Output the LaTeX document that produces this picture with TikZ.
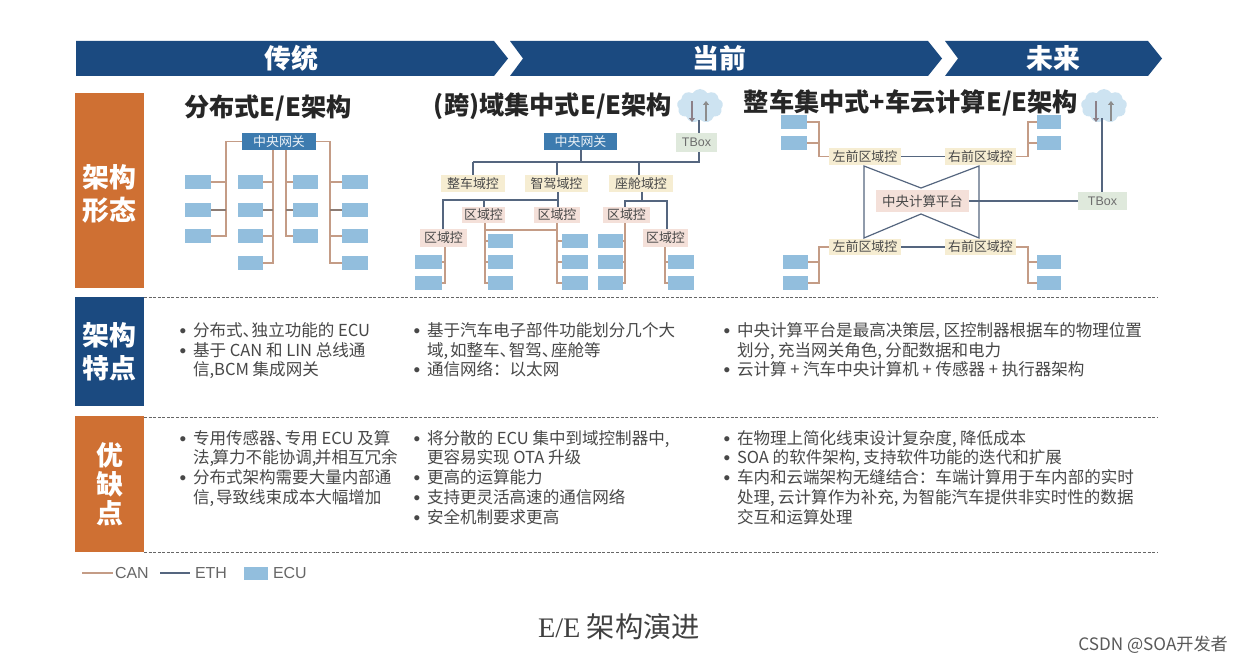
\documentclass[tikz,border=0pt]{standalone}
\usepackage{fontspec}
\setmainfont{Noto Sans CJK SC}
\newfontfamily\latinserif{Liberation Serif}
\newfontfamily\latinsans{Liberation Sans}
\usetikzlibrary{shapes.symbols,arrows.meta}
\definecolor{hdrblue}{HTML}{1B4A80}
\definecolor{sideorange}{HTML}{CF7033}
\definecolor{ecublue}{HTML}{92BEDD}
\definecolor{gwblue}{HTML}{3D7BAF}
\definecolor{domcol}{HTML}{F6EDD2}
\definecolor{zonecol}{HTML}{F4E0D9}
\definecolor{tboxcol}{HTML}{DFE9DC}
\definecolor{cancol}{HTML}{C49C86}
\definecolor{candark}{HTML}{8C7C74}
\definecolor{ethcol}{HTML}{55667F}
\definecolor{cloudcol}{HTML}{CDE3F1}
\definecolor{bodytext}{HTML}{484848}
\definecolor{dnarrow}{HTML}{8C8088}
\newcommand\dn{\makebox[0.55em][l]{、}}
\newcommand\cm{,\hspace{3.5pt}}
\newcommand\cz{,\kern-1.5pt\relax}
\tikzset{
  base/.style={inner sep=0pt,outer sep=0pt,align=center},
  ecu/.style={base,fill=ecublue},
  gw/.style={base,fill=gwblue,text=white!90!gwblue,font=\fontsize{13}{15}\selectfont},
  dom/.style={base,fill=domcol,text=bodytext,font=\fontsize{13}{15}\selectfont},
  zone/.style={base,fill=zonecol,text=bodytext,font=\fontsize{13}{15}\selectfont},
  tbox/.style={base,fill=tboxcol,text=bodytext!80,font=\latinsans\fontsize{12.5}{14}\selectfont},
  can/.style={draw=cancol,line width=1.2pt},
  canb/.style={draw=candark,line width=1.2pt},
  eth/.style={draw=ethcol,line width=1.2pt},
  side/.style={base,text=white,font=\bfseries\fontsize{27}{31}\selectfont},
  hdr/.style={fill=hdrblue,draw=none},
  hdrtext/.style={base,text=white,font=\bfseries\fontsize{27}{30}\selectfont},
  titletext/.style={base,text=black!85,font=\bfseries\fontsize{25.3}{29}\selectfont},
  txt/.style={inner sep=0pt,outer sep=0pt,anchor=base west,text=bodytext,font=\fontsize{16.6}{19}\selectfont},
  bul/.style={inner sep=0pt,outer sep=0pt,anchor=base,text=bodytext,font=\latinsans\fontsize{19}{20}\selectfont},
  sep/.style={draw=black!60,line width=0.9pt,dash pattern=on 3pt off 1.6pt},
  legend/.style={inner sep=0pt,outer sep=0pt,anchor=west,text=black!60,font=\latinsans\fontsize{16}{18}\selectfont},
  cloudy/.style={shape=cloud,cloud puffs=9,cloud puff arc=120,aspect=1.3,fill=cloudcol,draw=none,inner sep=0pt,minimum width=46bp,minimum height=34bp},
  upar/.style={-{Triangle[length=4pt,width=6pt]},draw=black!45,line width=1.6pt},
  dnar/.style={-{Triangle[length=4pt,width=6pt]},draw=dnarrow,line width=1.6pt}
}
\newcommand\bx[7]{\node[#6,minimum width={(#4-#2)*1bp},minimum height={(#5-#3)*1bp}] (#1) at ({(#2+#4)/2},{(#3+#5)/2}) {#7};}
\newcommand\bl[4]{\node[bul] (#1b) at (#2+3,#3+7.5) {•};\node[txt] (#1) at (#2+13,#3+6.2) {#4};}
\newcommand\cl[4]{\node[txt] (#1) at (#2+13,#3+6.2) {#4};}
\begin{document}
\begin{tikzpicture}[x=1bp,y=-1bp]
\useasboundingbox (0,0) rectangle (1244,662);
\fill[white] (0,0) rectangle (1244,662);
% header chevrons
\fill[hdr] (76,41) -- (494,41) -- (508,58.5) -- (494,76) -- (76,76) -- cycle;
\fill[hdr] (510,41) -- (928,41) -- (942,58.5) -- (928,76) -- (510,76) -- (523,58.5) -- cycle;
\fill[hdr] (945,41) -- (1148,41) -- (1162,58.5) -- (1148,76) -- (945,76) -- (958,58.5) -- cycle;
\node[hdrtext] (h1) at (291,58) {传统};
\node[hdrtext] (h2) at (719,58) {当前};
\node[hdrtext] (h3) at (1053,58) {未来};
% side blocks
\bx{s1}{75}{93}{144}{288}{side,fill=sideorange}{}
\node[side] (s1t) at (109.5,194) {架构\\[2pt]形态};
\bx{s2}{75}{297}{144}{406}{side,fill=hdrblue}{架构\\[2pt]特点}
\bx{s3}{75}{416}{144}{552}{side,fill=sideorange}{优\\[-2pt]缺\\[-2pt]点}
% separators
\coordinate (d1a) at (144,297); \coordinate (d1b) at (1157,297);
\coordinate (d2a) at (144,417); \coordinate (d2b) at (1157,417);
\coordinate (d3a) at (144,552); \coordinate (d3b) at (1157,552);
\draw[sep] (d1a) -- (d1b); \draw[sep] (d2a) -- (d2b); \draw[sep] (d3a) -- (d3b);
% titles
\node[titletext] (t1) at (268,108) {分布式E/E架构};
\node[titletext] (t2) at (553,106) {(跨)域集中式E/E架构};
\node[titletext] (t3) at (911,103) {整车集中式+车云计算E/E架构};

% ===== distributed
\bx{ga}{242}{133}{316}{150}{gw}{中央网关}
\bx{a11}{185}{175}{211}{189}{ecu}{}
\bx{a12}{185}{203}{211}{217}{ecu}{}
\bx{a13}{185}{229}{211}{243}{ecu}{}
\bx{a21}{238}{175}{263}{189}{ecu}{}
\bx{a22}{238}{203}{263}{217}{ecu}{}
\bx{a23}{238}{229}{263}{243}{ecu}{}
\bx{a24}{238}{256}{263}{270}{ecu}{}
\bx{a31}{293}{175}{318}{189}{ecu}{}
\bx{a32}{293}{203}{318}{217}{ecu}{}
\bx{a33}{293}{229}{318}{243}{ecu}{}
\bx{a41}{342}{175}{368}{189}{ecu}{}
\bx{a42}{342}{203}{368}{217}{ecu}{}
\bx{a43}{342}{229}{368}{243}{ecu}{}
\bx{a44}{342}{256}{368}{270}{ecu}{}
\coordinate (ab1) at (226,236); \coordinate (ab2) at (273,263); \coordinate (ab3) at (286,236); \coordinate (ab4) at (330,263);
\draw[can] (ga.west) -| (ab1) -- (a13.east);
\draw[can] (a11.east) -- (a11.east -| ab1);
\draw[canb] (a12.east) -- (a12.east -| ab1);
\draw[can] (ga.south -| ab2) -- (ab2) -- (a24.east);
\draw[can] (a21.east) -- (a21.east -| ab2);
\draw[canb] (a22.east) -- (a22.east -| ab2);
\draw[can] (a23.east) -- (a23.east -| ab2);
\draw[can] (ga.south -| ab3) -- (ab3) -- (a33.west);
\draw[can] (a31.west) -- (a31.west -| ab3);
\draw[canb] (a32.west) -- (a32.west -| ab3);
\draw[can] (ga.east) -| (ab4) -- (a44.west);
\draw[can] (a41.west) -- (a41.west -| ab4);
\draw[canb] (a42.west) -- (a42.west -| ab4);
\draw[can] (a43.west) -- (a43.west -| ab4);

% ===== domain
\node[cloudy] (cl1) at (700,106) {};
\coordinate (cl1d1) at (692,101); \coordinate (cl1d2) at (692,122);
\coordinate (cl1u1) at (706,121); \coordinate (cl1u2) at (706,101);
\draw[dnar] (cl1d1) -- (cl1d2);
\draw[upar] (cl1u1) -- (cl1u2);
\bx{gb}{544}{133}{617}{150}{gw}{中央网关}
\bx{tb}{676}{133}{717}{152}{tbox}{TBox}
\bx{d1}{441}{175}{505}{192}{dom}{整车域控}
\bx{d2}{525}{175}{588}{192}{dom}{智驾域控}
\bx{d3}{609}{175}{673}{192}{dom}{座舱域控}
\bx{z1}{420}{229}{467}{247}{zone}{区域控}
\bx{z2}{462}{207}{505}{223}{zone}{区域控}
\bx{z3}{534}{207}{580}{223}{zone}{区域控}
\bx{z4}{603}{207}{650}{223}{zone}{区域控}
\bx{z5}{643}{229}{688}{247}{zone}{区域控}
\bx{b11}{415}{255}{442}{269}{ecu}{}
\bx{b12}{415}{276}{442}{290}{ecu}{}
\bx{b21}{488}{234}{513}{248}{ecu}{}
\bx{b22}{488}{255}{513}{269}{ecu}{}
\bx{b23}{488}{276}{513}{290}{ecu}{}
\bx{b31}{562}{234}{588}{248}{ecu}{}
\bx{b32}{562}{255}{588}{269}{ecu}{}
\bx{b33}{562}{276}{588}{290}{ecu}{}
\bx{b41}{598}{234}{623}{248}{ecu}{}
\bx{b42}{598}{255}{623}{269}{ecu}{}
\bx{b43}{598}{276}{623}{290}{ecu}{}
\bx{b51}{668}{255}{694}{269}{ecu}{}
\bx{b52}{668}{276}{694}{290}{ecu}{}
% ETH
\coordinate (bus) at (581,162);
\coordinate (bL) at (473,162);
\coordinate (bR) at (699,162);
\coordinate (bD2) at (557,162);
\coordinate (bD3) at (639,162);
\coordinate (cloudfoot) at (699,120);
\draw[eth] (gb.south -| bus) -- (bus);
\draw[eth] (bL) -- (bR) -- (tb.south -| bR);
\draw[eth] (tb.north -| bR) -- (cloudfoot);
\draw[eth] (bL) -- (d1.north -| bL);
\draw[eth] (bD2) -- (d2.north -| bD2);
\draw[eth] (bD3) -- (d3.north -| bD3);
\coordinate (e2L) at (443,200); \coordinate (e2M) at (484,200); \coordinate (e2R) at (558,200);
\draw[eth] (z1.north -| e2L) -- (e2L) -- (e2R) -- (d2.south -| e2R);
\draw[eth] (e2M) -- (z2.north -| e2M);
\draw[eth] (e2R) -- (z3.north -| e2R);
\coordinate (e3L) at (625,201); \coordinate (e3M) at (642,201); \coordinate (e3R) at (667,201);
\draw[eth] (z4.north -| e3L) -- (e3L) -- (e3R) -- (z5.north -| e3R);
\draw[eth] (e3M) -- (d3.south -| e3M);
% CAN
\coordinate (c1) at (445,283);
\draw[can] (z1.south -| c1) -- (c1) -- (b12.east);
\draw[can] (b11.east) -- (b11.east -| c1);
\coordinate (c2) at (485,283); \coordinate (c3) at (557,283); \coordinate (c23) at (485,230);
\draw[can] (z2.south -| c2) -- (c2) -- (b23.west);
\draw[can] (b21.west) -- (b21.west -| c2);
\draw[can] (b22.west) -- (b22.west -| c2);
\draw[can] (c23) -- (c23 -| c3);
\draw[can] (z3.south -| c3) -- (c3) -- (b33.west);
\draw[can] (b31.west) -- (b31.west -| c3);
\draw[can] (b32.west) -- (b32.west -| c3);
\coordinate (c4) at (625,283);
\draw[can] (z4.south -| c4) -- (c4) -- (b43.east);
\draw[can] (b41.east) -- (b41.east -| c4);
\draw[can] (b42.east) -- (b42.east -| c4);
\coordinate (c5) at (665,283);
\draw[can] (z5.south -| c5) -- (c5) -- (b52.west);
\draw[can] (b51.west) -- (b51.west -| c5);

% ===== central
\node[cloudy] (cl2) at (1104,106) {};
\coordinate (cl2d1) at (1096,101); \coordinate (cl2d2) at (1096,122);
\coordinate (cl2u1) at (1111,121); \coordinate (cl2u2) at (1111,101);
\draw[dnar] (cl2d1) -- (cl2d2);
\draw[upar] (cl2u1) -- (cl2u2);
\bx{k1}{781}{115}{807}{129}{ecu}{}
\bx{k2}{781}{136}{807}{150}{ecu}{}
\bx{k3}{1037}{115}{1061}{129}{ecu}{}
\bx{k4}{1037}{136}{1061}{150}{ecu}{}
\bx{k5}{783}{255}{808}{269}{ecu}{}
\bx{k6}{783}{276}{808}{290}{ecu}{}
\bx{k7}{1037}{255}{1061}{269}{ecu}{}
\bx{k8}{1037}{276}{1061}{290}{ecu}{}
\bx{lf}{829}{148}{901}{165}{dom}{左前区域控}
\bx{rf}{945}{148}{1016}{165}{dom}{右前区域控}
\bx{lb}{829}{239}{901}{255}{dom}{左前区域控}
\bx{rb}{945}{239}{1016}{255}{dom}{右前区域控}
\bx{cc}{876}{190}{969}{212}{zone,font=\fontsize{13.5}{15}\selectfont}{中央计算平台}
\bx{tc}{1078}{192}{1127}{210}{tbox}{TBox}
\coordinate (tl) at (864,166); \coordinate (bl) at (864,238);
\coordinate (tr) at (979,166); \coordinate (br) at (979,238);
\coordinate (ctop) at (921,188); \coordinate (cbot) at (921,214);
\draw[eth] (ctop) -- (tl) -- (bl) -- (cbot);
\draw[eth] (ctop) -- (tr) -- (br) -- (cbot);
\draw[eth] (lf.east) -- (rf.west);
\draw[eth] (lb.east) -- (rb.west);
\draw[eth] (cc.east) -- (tc.west);
\coordinate (cltc) at (1102,118);
\draw[eth] (tc.north -| cltc) -- (cltc);
\coordinate (m1) at (819,122); \coordinate (m2) at (1028,122);
\coordinate (m3) at (819,283); \coordinate (m4) at (1028,283);
\draw[can] (k1.east) -- (m1) |- (lf.west);
\draw[can] (k2.east) -- (k2.east -| m1);
\draw[can] (k3.west) -- (m2) |- (rf.east);
\draw[can] (k4.west) -- (k4.west -| m2);
\draw[can] (lb.west) -| (m3) -- (k6.east);
\draw[can] (k5.east) -- (k5.east -| m3);
\draw[can] (rb.east) -| (m4) -- (k8.west);
\draw[can] (k7.west) -- (k7.west -| m4);

% ===== texts row 2
\bl{p1}{180}{330}{分布式\dn 独立功能的 ECU}
\bl{p2}{180}{350}{基于 CAN 和 LIN 总线通}
\cl{p3}{180}{369}{信,BCM 集成网关}
\bl{q1}{414}{330}{基于汽车电子部件功能划分几个大}
\cl{q2}{414}{350}{域,\hspace{2pt}如整车\dn 智驾\dn 座舱等}
\bl{q3}{414}{369}{通信网络：以太网}
\bl{r1}{724}{330}{中央计算平台是最高决策层\cm 区控制器根据车的物理位置}
\cl{r2}{724}{350}{划分\cm 充当网关角色\cm 分配数据和电力}
\bl{r3}{724}{369}{云计算 + 汽车中央计算机 + 传感器 + 执行器架构}
% ===== texts row 3
\bl{u1}{180}{438}{专用传感器\dn 专用 ECU 及算}
\cl{u2}{180}{457}{法\cz 算力不能协调\cz 并相互冗余}
\bl{u3}{180}{477}{分布式架构需要大量内部通}
\cl{u4}{180}{497}{信,\hspace{2pt}导致线束成本大幅增加}
\bl{v1}{414}{438}{将分散的 ECU 集中到域控制器中,}
\cl{v2}{414}{457}{更容易实现 OTA 升级}
\bl{v3}{414}{477}{更高的运算能力}
\bl{v4}{414}{497}{支持更灵活高速的通信网络}
\bl{v5}{414}{517}{安全机制要求更高}
\bl{w1}{724}{438}{在物理上简化线束设计复杂度\cm 降低成本}
\bl{w2}{724}{457}{SOA 的软件架构\cm 支持软件功能的迭代和扩展}
\bl{w3}{724}{477}{车内和云端架构无缝结合：车端计算用于车内部的实时}
\cl{w4}{724}{497}{处理\cm 云计算作为补充\cm 为智能汽车提供非实时性的数据}
\cl{w5}{724}{517}{交互和运算处理}
% legend
\coordinate (la) at (82,573); \coordinate (lb2) at (113,573);
\coordinate (lc) at (160,573); \coordinate (ld) at (190,573);
\draw[can] (la) -- (lb2);
\draw[eth] (lc) -- (ld);
\node[legend] (lg1) at (115,573) {CAN};
\node[legend] (lg2) at (195,573) {ETH};
\bx{lg3}{244}{567}{268}{580}{ecu}{}
\node[legend] (lg4) at (273,573) {ECU};
% caption
\node[base,text=black!75,font=\fontsize{28.4}{32}\selectfont] (cap) at (619,627) {{\latinserif E/E} 架构演进};
\node[inner sep=0pt,anchor=east,text=black!65,font=\fontsize{17.2}{20}\selectfont] (wm) at (1228,645) {CSDN @SOA开发者};
\end{tikzpicture}
\end{document}
